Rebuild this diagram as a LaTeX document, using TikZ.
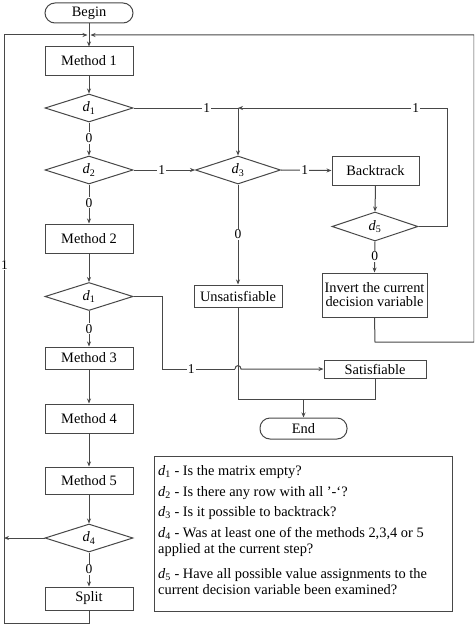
\documentclass[tikz,border=0pt]{standalone}
\usepackage{fontspec}
\setmainfont{Liberation Serif}
\usetikzlibrary{shapes.geometric,arrows.meta}
\definecolor{lc}{rgb}{0.28,0.28,0.28}
\begin{document}
\begin{tikzpicture}[x=1pt,y=-1pt,
  font=\fontsize{14.4}{16}\selectfont,
  ln/.style={draw=lc, line width=1pt},
  arr/.style={ln, -{Stealth[length=5pt,width=4pt]}},
  box/.style={draw=lc, line width=1pt, rectangle, minimum width=88pt, minimum height=29pt, inner sep=1pt},
  dia/.style={draw=lc, line width=1pt, diamond, aspect=3.2, minimum width=88pt, minimum height=28pt, inner sep=0pt},
  term/.style={draw=lc, line width=1pt, rectangle, rounded corners=10pt, minimum width=88pt, minimum height=20pt, inner sep=1pt},
  lbl/.style={fill=white, inner sep=1pt, font=\fontsize{13.5}{14}\selectfont},
  leg/.style={anchor=base west, inner sep=0pt}
]
\useasboundingbox (0,0) rectangle (474,626);
\clip (0,0) rectangle (474,626);
\fill[white] (0,0) rectangle (474,626);

% left column
\node[term] (begin) at (89,13) {Begin};
\node[box, minimum height=28pt] (m1) at (89,61) {Method 1};
\node[dia] (d1a) at (89,108) {\textit{d}\textsubscript{1}};
\node[dia] (d2) at (89,170) {\textit{d}\textsubscript{2}};
\node[box] (m2) at (89,238.5) {Method 2};
\node[dia] (d1b) at (89,296.5) {\textit{d}\textsubscript{1}};
\node[box, minimum height=22pt] (m3) at (89,358) {Method 3};
\node[box] (m4) at (89,418.5) {Method 4};
\node[box, minimum height=27pt] (m5) at (89,480.5) {Method 5};
\node[dia] (d4) at (89,538) {\textit{d}\textsubscript{4}};
\node[box, minimum height=23pt] (split) at (89,598.5) {Split};

% right part
\node[dia, minimum width=85pt] (d3) at (238,170) {\textit{d}\textsubscript{3}};
\node[box, minimum width=87pt] (bt) at (375.5,170.5) {Backtrack};
\node[dia, minimum width=86pt, minimum height=29pt] (d5) at (375,226.5) {\textit{d}\textsubscript{5}};
\node[box, minimum width=105pt, minimum height=44pt, align=center, inner sep=0pt] (inv) at (374.5,295) {Invert the current\\[-2pt]decision variable};
\node[box, minimum width=88pt, minimum height=22pt] (unsat) at (238,296) {Unsatisfiable};
\node[box, minimum width=102pt, minimum height=18pt] (sat) at (375,369) {Satisfiable};
\node[term, minimum width=87pt, minimum height=21pt] (end) at (303.5,428.5) {End};

% junction coordinates
\coordinate (top) at (89,35);
\coordinate (tl) at (4,35);
\coordinate (bl) at (4,623);
\coordinate (sb) at (89,623);
\coordinate (d4l) at (4,538);
\coordinate (tr) at (474,35);
\coordinate (ib) at (375,342);
\coordinate (ir) at (474,342);
\coordinate (j1) at (238,108);
\coordinate (d5r) at (447,226.5);
\coordinate (d5t) at (447,108);
\coordinate (s1) at (162,296.5);
\coordinate (s2) at (162,369);
\coordinate (h1) at (235,369);
\coordinate (h2) at (241,369);
\coordinate (u1) at (238,399);
\coordinate (u2) at (375,399);
\coordinate (ej) at (303.5,399);
\coordinate (l1c) at (4.5,265);

% main chain
\draw[arr] (begin.south) -- (m1.north);
\draw[arr] (m1.south) -- (d1a.north);
\draw[arr] (d1a.south) -- node[lbl, pos=0.47] {0} (d2.north);
\draw[arr] (d2.south) -- node[lbl, pos=0.47] {0} (m2.north);
\draw[arr] (m2.south) -- (d1b.north);
\draw[arr] (d1b.south) -- node[lbl, pos=0.5] {0} (m3.north);
\draw[arr] (m3.south) -- (m4.north);
\draw[arr] (m4.south) -- (m5.north);
\draw[arr] (m5.south) -- (d4.north);
\draw[arr] (d4.south) -- node[lbl, pos=0.5] {0} (split.north);

% left loop
\draw[arr] (split.south) -- (sb) -- (bl) -- (tl) -- ([xshift=-1.5pt]top);
\node[lbl, inner sep=0.5pt] (l1lab) at (l1c) {1};
\draw[arr] (d4.west) -- (d4l);

% right loop
\draw[arr] (inv.south) -- (ib) -- (ir) -- (tr) -- ([xshift=1.5pt]top);

% d1 -> d3
\draw[ln] (d1a.east) -- node[lbl, pos=0.7] {1} (j1);
\draw[arr] (j1) -- (d3.north);
\draw[arr] (d5.east) -- (d5r) -- (d5t) -- node[lbl, pos=0.15] {1} (j1);
\draw[arr] (d2.east) -- node[lbl, pos=0.46] {1} (d3.west);
\draw[arr] (d3.east) -- node[lbl, pos=0.47] {1} (bt.west);
\draw[arr] (d3.south) -- node[lbl, pos=0.5] {0} (unsat.north);
\draw[arr] (bt.south) -- (d5.north);
\draw[arr] (d5.south) -- node[lbl, pos=0.47] {0} (inv.north);

% d1 (second) -> satisfiable with hop
\draw[ln] (d1b.east) -- (s1) -- (s2) -- node[lbl, pos=0.4] {1} (h1);
\draw[arr] (h1) .. controls (235,364.5) and (241,364.5) .. (h2) -- (sat.west);

% to End
\draw[ln] (unsat.south) -- (u1) -- (u2) -- (sat.south);
\draw[arr] (ej) -- (end.north);

% legend
\node[draw=lc, line width=1pt, minimum width=298pt, minimum height=155pt, inner sep=0pt] (legend) at (303,533.5) {};
\node[leg] (l1) at (158,475) {\textit{d}\textsubscript{1} - Is the matrix empty?};
\node[leg] (l2) at (158,496) {\textit{d}\textsubscript{2} - Is there any row with all \textquoteright-\textquoteleft?};
\node[leg] (l3) at (158,516) {\textit{d}\textsubscript{3} - Is it possible to backtrack?};
\node[leg] (l4) at (158,537) {\textit{d}\textsubscript{4} - Was at least one of the methods 2,3,4 or 5};
\node[leg] (l4b) at (158,553) {applied at the current step?};
\node[leg] (l5) at (158,578) {\textit{d}\textsubscript{5} - Have all possible value assignments to the};
\node[leg] (l5b) at (158,594) {current decision variable been examined?};
\end{tikzpicture}
\end{document}
